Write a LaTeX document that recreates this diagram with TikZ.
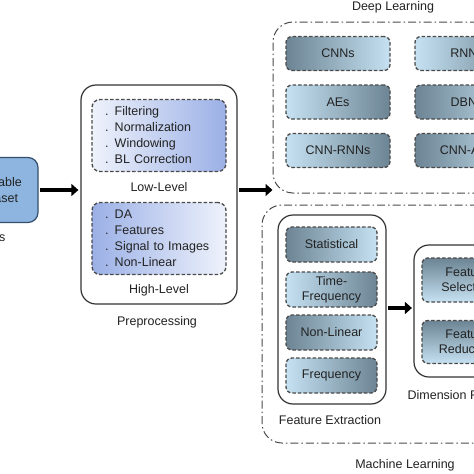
\documentclass[tikz,border=0pt]{standalone}
\usepackage{fontspec}
\setmainfont{Liberation Sans}
\usetikzlibrary{arrows.meta}
\definecolor{txt}{HTML}{222222}
\definecolor{edge}{HTML}{4A4A4A}
\definecolor{dk}{HTML}{6C8494}
\definecolor{lt}{HTML}{C6E2F2}
\definecolor{pbl}{HTML}{9BB0E6}
\definecolor{plt}{HTML}{EEF2FB}
\definecolor{dsfill}{HTML}{8DB5E0}
\definecolor{dsedge}{HTML}{34506E}
\begin{document}
\begin{tikzpicture}[x=1pt,y=-1pt,
  every node/.style={text=txt},
  lbl/.style={font=\fontsize{12.5}{15}\selectfont},
  outerbox/.style={draw=edge, line width=1pt, rounded corners=20pt,
     dash pattern=on 8pt off 3pt on 1.5pt off 3pt},
  solidbox/.style={draw=black!80, line width=1.2pt, rounded corners=15pt},
  dbox/.style={draw=edge, line width=1.3pt, rounded corners=6pt,
     dash pattern=on 3.5pt off 2pt, align=center,
     font=\fontsize{12.5}{15}\selectfont, inner sep=2pt},
  darkbox/.style={dbox, left color=dk, right color=lt},
  lightbox/.style={dbox, left color=lt, right color=dk},
  dlsize/.style={minimum width=104pt, minimum height=34pt},
  fesize/.style={minimum width=91pt, minimum height=35pt},
  prebox/.style={draw=edge, line width=1.3pt, rounded corners=8pt,
     dash pattern=on 3.5pt off 2pt, align=left,
     font=\fontsize{12.5}{16}\selectfont,
     minimum width=134pt, minimum height=72pt, text width=108pt, inner xsep=13pt},
  bigarrow/.style={line width=4.5pt, black, -{Triangle[length=7pt,width=12pt]}}
]
\useasboundingbox (0,0) rectangle (474,474);
\fill[white] (0,0) rectangle (474,474);
\clip (0,0) rectangle (474,474);

% dataset
\node[draw=dsedge, line width=1.2pt, fill=dsfill, rounded corners=10pt,
  minimum width=83pt, minimum height=65pt, align=center,
  font=\fontsize{12.5}{16}\selectfont] (ds) at (-3.5,190) {Available\\Dataset};
\node[lbl, anchor=east] (dslbl) at (9,237) {Characteristics};

% preprocessing
\node[solidbox, minimum width=156pt, minimum height=219pt] (pre) at (159,194.5) {};
\node[prebox, left color=plt, right color=pbl] (low) at (159,135.5)
  {. Filtering\\. Normalization\\. Windowing\\. BL Correction};
\node[lbl] (lowlbl) at (159,187) {Low-Level};
\node[prebox, left color=pbl, right color=plt] (high) at (159,238.5)
  {. DA\\. Features\\. Signal to Images\\. Non-Linear};
\node[lbl] (highlbl) at (159,290) {High-Level};
\node[lbl] (prelbl) at (157,322) {Preprocessing};

% deep learning
\node[outerbox, minimum width=287pt, minimum height=171pt] (dl) at (416.5,107.5) {};
\node[lbl] (dllbl) at (393,7) {Deep Learning};
\node[darkbox, dlsize] (cnn) at (338,53.5) {CNNs};
\node[lightbox, dlsize] (rnn) at (467,53.5) {RNNs};
\node[lightbox, dlsize] (ae) at (338,102) {AEs};
\node[darkbox, dlsize] (dbn) at (467,102) {DBNs};
\node[lightbox, dlsize] (cnnrnn) at (338,150.5) {CNN-RNNs};
\node[darkbox, dlsize] (cnnae) at (467,150.5) {CNN-AEs};

% machine learning
\node[outerbox, minimum width=298pt, minimum height=238pt] (ml) at (411,324) {};
\node[lbl] (mllbl) at (405,465) {Machine Learning};
\node[solidbox, minimum width=108pt, minimum height=189pt] (fe) at (332,309.5) {};
\node[darkbox, fesize] (stat) at (331.5,244.5) {Statistical};
\node[lightbox, fesize] (tf) at (331.5,289.5) {Time-\\Frequency};
\node[darkbox, fesize] (nl) at (331.5,332.5) {Non-Linear};
\node[lightbox, fesize] (freq) at (331.5,375.5) {Frequency};
\node[lbl] (felbl) at (330,420) {Feature Extraction};

\node[solidbox, minimum width=106pt, minimum height=132pt] (dim) at (467,311) {};
\node[dbox, top color=dk, bottom color=lt, minimum width=90pt, minimum height=44pt] (fs) at (467,280) {Feature\\Selection};
\node[dbox, top color=dk, bottom color=lt, minimum width=90pt, minimum height=43pt] (fr) at (467,342) {Feature\\Reduction};
\node[lbl] (dimlbl) at (467,395) {Dimension Reduction};

% arrows
\path ([xshift=1.5pt]ds.east) coordinate (a1s);
\draw[bigarrow] (a1s) -- ([xshift=-2pt]a1s -| pre.west);
\path ([xshift=1.5pt,yshift=4.5pt]pre.east) coordinate (a2s);
\draw[bigarrow] (a2s) -- (a2s -| dl.west);
\path ([xshift=1.5pt,yshift=1.5pt]fe.east) coordinate (a3s);
\draw[bigarrow] (a3s) -- ([xshift=-1.5pt]a3s -| dim.west);
\end{tikzpicture}
\end{document}
